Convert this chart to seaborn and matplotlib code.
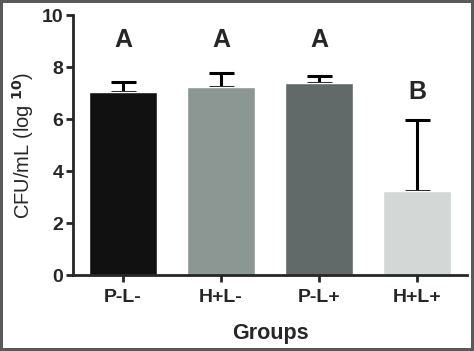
import numpy as np
import pandas as pd
import matplotlib
matplotlib.use('Agg')
import matplotlib.pyplot as plt
import seaborn as sns

# 数据
groups = ["P-L-", "H+L-", "P-L+", "H+L+"]
means = [7.05, 7.25, 7.38, 3.23]
sd_upper = [0.38, 0.52, 0.28, 2.73]
letters = ["A", "A", "A", "B"]
letter_y = [9.05, 9.05, 9.05, 7.05]
colors = ["#111111", "#8b9794", "#5f6b6a", "#d2d8d7"]

sns.set_style("ticks")
plt.rcParams['font.family'] = ['Liberation Sans', 'DejaVu Sans']

df = pd.DataFrame({"group": groups, "mean": means})

fig = plt.figure(figsize=(4.74, 3.51), dpi=100)
fig.patch.set_edgecolor("#5a5a5a")
fig.patch.set_linewidth(4)
ax = fig.add_axes([0.154, 0.2165, 0.831, 0.7405])

ax.errorbar(np.arange(len(groups)), means, yerr=[[0] * 4, sd_upper],
            fmt="none", ecolor="black", elinewidth=2.2, capsize=9, capthick=2.2,
            zorder=0)
sns.barplot(data=df, x="group", y="mean", hue="group", palette=colors,
            width=0.7, legend=False, ax=ax, errorbar=None, zorder=2)

for i, (t, y) in enumerate(zip(letters, letter_y)):
    ax.text(i, y, t, ha="center", va="center", fontsize=18, fontweight="bold")

ax.set_ylim(0, 10)
ax.set_xlim(-0.51, 3.51)
ax.set_yticks([0, 2, 4, 6, 8, 10])
ax.set_xlabel("Groups", fontsize=15.5, fontweight="bold", labelpad=12)
ax.set_ylabel(r"CFU/mL (log $^{\mathbf{10}}$)", fontsize=14.5, labelpad=4)
ax.tick_params(width=2, length=5, labelsize=14, pad=2)
ax.tick_params(axis="x", pad=5)
for lab in ax.get_xticklabels() + ax.get_yticklabels():
    lab.set_fontweight("bold")
for s in ["left", "bottom"]:
    ax.spines[s].set_linewidth(2)
sns.despine(ax=ax)

fig.savefig("out.png", dpi=100)
plt.close()
